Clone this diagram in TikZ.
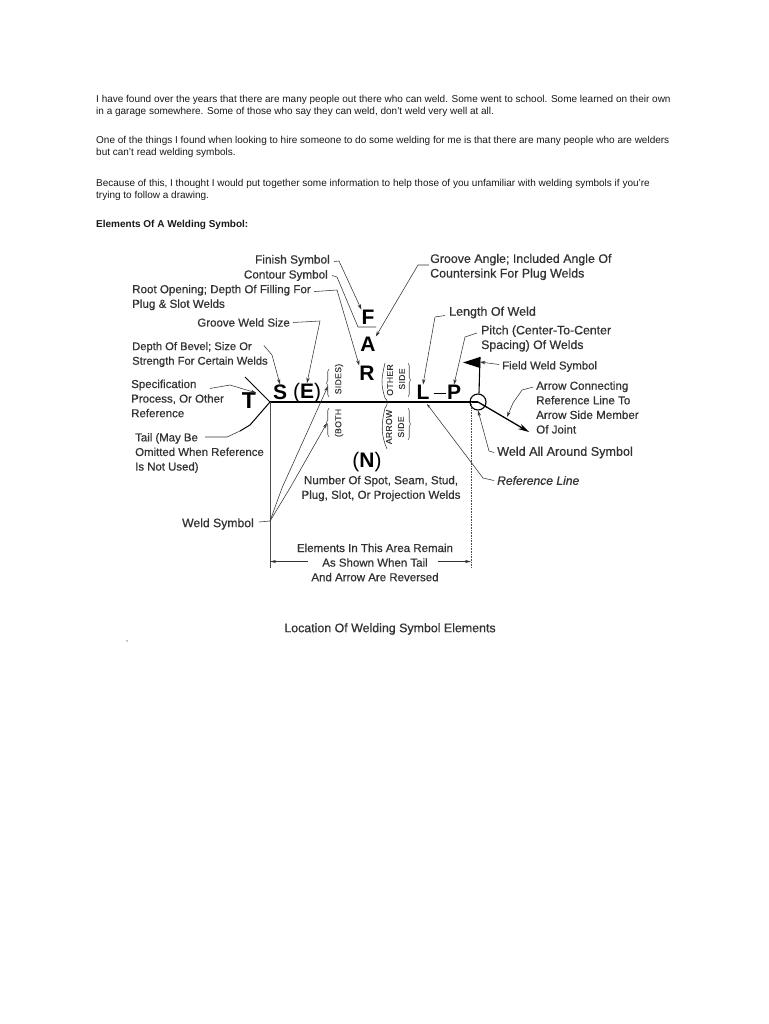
\documentclass[tikz,border=0pt]{standalone}
\usepackage{fontspec}
\setmainfont{Liberation Sans}
\newfontfamily\labfont[FakeBold=0.6,ItalicFeatures={FakeBold=0.6}]{Liberation Sans}
\newfontfamily\sidefont[FakeBold=0.3,LetterSpace=4]{Liberation Sans}
\usetikzlibrary{arrows.meta,decorations.pathreplacing}
\definecolor{ink}{gray}{0.2}
\tikzset{
  para/.style={anchor=west,inner sep=0pt,text=black!90,font=\fontsize{10}{12}\selectfont,align=left,yshift=-0.7pt},
  sz/.style={font=\labfont\fontsize{#1}{14.6}\selectfont},
  lab/.style={inner sep=1pt,text=ink,yshift=-1.5pt,sz=11.5},
  labl/.style={lab,anchor=west,align=left},
  labr/.style={lab,anchor=east,align=right},
  labc/.style={lab,align=center},
  glyph/.style={inner sep=0pt,text=black,font=\fontsize{21}{21}\selectfont\bfseries},
  side/.style={inner sep=0pt,text=ink,rotate=90,font=\sidefont\fontsize{8.6}{9}\selectfont},
  lead/.style={draw=black!80,line width=0.55pt},
  leadarrow/.style={lead,-{Stealth[length=5.5pt,width=3.4pt]}},
  heavy/.style={draw=black,line width=1.3pt},
  thinv/.style={draw=black!70,line width=0.6pt},
  rbrace/.style={draw=black!70,line width=0.55pt,decorate,decoration={brace,amplitude=2.5pt}},
}
\begin{document}
\begin{tikzpicture}[x=1pt,y=-1pt]
\useasboundingbox (0,0) rectangle (768,1024);
\fill[white] (0,0) rectangle (768,1024);
% page text
\node[para] (p1) at (96,105) {I have found over the years that there are many people out there who can weld. Some went to school. Some learned on their own\\in a garage somewhere. Some of those who say they can weld, don't weld very well at all.};
\node[para] (p2) at (96,146) {One of the things I found when looking to hire someone to do some welding for me is that there are many people who are welders\\but can't read welding symbols.};
\node[para] (p3) at (96,189) {Because of this, I thought I would put together some information to help those of you unfamiliar with welding symbols if you're\\trying to follow a drawing.};
\node[para,font=\fontsize{10}{12}\selectfont\bfseries] (p4) at (96,224) {Elements Of A Welding Symbol:};
% glyphs
\node[glyph] (F) at (368,317) {F};
\node[glyph] (A) at (368,344) {A};
\node[glyph] (R) at (367,373) {R};
\node[glyph] (S) at (280,392) {S};
\node[glyph,font=\fontsize{21}{21}\selectfont] (E) at (307,393) {(\textbf{E})};
\node[glyph,font=\fontsize{23}{23}\selectfont\bfseries] (T) at (249,401) {T};
\node[glyph] (L) at (423,392) {L};
\node[glyph] (P) at (454,392) {P};
\node[glyph,font=\fontsize{21}{21}\selectfont] (N) at (367,462) {(\textbf{N})};
% labels
\node[labr,sz=11.9] (finish) at (331,259) {Finish Symbol};
\node[labr,sz=11.7] (contour) at (329,274) {Contour Symbol};
\node[labl,sz=11.6] (root) at (131,296) {Root Opening; Depth Of Filling For\\Plug \& Slot Welds};
\node[labr,sz=11.5] (groovesize) at (291,321) {Groove Weld Size};
\node[labl,sz=11.2] (bevel) at (131,353) {Depth Of Bevel; Size Or\\Strength For Certain Welds};
\node[labl,sz=11.5] (spec) at (130,397) {Specification\\Process, Or Other\\Reference};
\node[labl,sz=11.4] (tail) at (134,451.5) {Tail (May Be\\Omitted When Reference\\Is Not Used)};
\node[labl,sz=12.4] (gangle) at (429,265.5) {Groove Angle; Included Angle Of\\Countersink For Plug Welds};
\node[labl,sz=12.5] (length) at (448,311) {Length Of Weld};
\node[labl,sz=12.3] (pitch) at (480,337) {Pitch (Center-To-Center\\Spacing) Of Welds};
\node[labl,sz=11.4] (field) at (501,365) {Field Weld Symbol};
\node[labl,sz=11.6] (arrowc) at (535,406) {Arrow Connecting\\Reference Line To\\Arrow Side Member\\Of Joint};
\node[labl,sz=12.6] (allround) at (496,451) {Weld All Around Symbol};
\node[labl,font=\labfont\fontsize{12.1}{14.6}\selectfont\itshape] (refl) at (496,479) {Reference Line};
\node[labc,sz=11.6] (number) at (381,487) {Number Of Spot, Seam, Stud,\\Plug, Slot, Or Projection Welds};
\node[labr,sz=12.2] (weldsym) at (255,522.5) {Weld Symbol};
\node[labc,sz=11.5] (remain) at (375,561) {Elements In This Area Remain\\As Shown When Tail\\And Arrow Are Reversed};
\node[lab,sz=12.4] (caption) at (390,627.5) {Location Of Welding Symbol Elements};
\node[inner sep=0pt,font=\fontsize{7}{8}\selectfont] (speck) at (127,642) {,};
% side words
\node[side] (sides) at (339,379) {SIDES)};
\node[side] (both) at (339,423) {(BOTH};
\node[side] (other) at (390,380) {OTHER};
\node[side] (sideA) at (402,379) {SIDE};
\node[side] (arrowW) at (389,427) {ARROW};
\node[side] (sideB) at (401,427) {SIDE};
% reference structure
\coordinate (J) at (270,402);
\coordinate (Jb) at (270,568);
\coordinate (Kt) at (471,402);
\coordinate (Kb) at (471,568);
\coordinate (tailup) at (245,377);
\coordinate (tailend) at (205,437);
\coordinate (tip) at (529,432);
\node[circle,draw=black,line width=1.1pt,minimum size=16pt,inner sep=0pt] (C) at (478,402) {};
\draw[heavy] (J) -- (C.center);
\draw[heavy,line width=1pt] (tailup) -- (J);
\draw[heavy,line width=1pt] (J) -- (250,425) -- (240,431);
\draw[lead] (240,431) -- (227,437) -- (tailend);
\draw[thinv] (J) -- (Jb);
\draw[thinv,densely dotted] (Kt) -- (Kb);
\draw[heavy,-{Stealth[length=11pt,width=6pt]}] (C.center) -- (tip);
% flag
\coordinate (flagtop) at (480,357);
\draw[draw=black,line width=1.1pt] (C.north) ++(1,0) -- (flagtop);
\fill[black] (flagtop) -- (463,362.5) -- (480,368) -- cycle;
% dash between L and P
\draw[draw=black,line width=1pt] (L.east) ++(4,1) -- ++(12,0);
% line under F
\coordinate (Fbar) at (376,327);
% leaders
\draw[leadarrow] (finish.east) ++(3,1) -- (339,261) -- (F.north west);
\draw[lead] (contour.east) ++(3,0) -- (337,277) -- (358,327) -- (Fbar);
\draw[leadarrow] (root.north east) ++(2,8) -- (337,290) -- (R.north west);
\draw[leadarrow] (groovesize.east) ++(2,0) -- (320,321) -- (E.north);
\draw[leadarrow] (bevel.east) ++(-5,-9) -- (272,355) -- (S.north);
\draw[leadarrow] (spec.north east) ++(-15,10) -- (230,385) -- (T.north east);
\draw[leadarrow] (gangle.west |- 0,265) -- (418,265) -- (A.north east);
\draw[leadarrow] (length.west) ++(-3,3) -- (435,317) -- (L.north);
\draw[leadarrow] (pitch.west |- 0,333) ++(-3,0) -- (465,337) -- (P.north);
\draw[leadarrow] (field.west) ++(-2,-2) -- (flagtop |- 0,362);
\draw[leadarrow] (arrowc.north west) ++(-2,7) -- (522,390) -- (513,403) -- (507,417);
\draw[leadarrow] (allround.west) ++(-2,0) -- (489,451) -- (C.south);
\draw[lead,-{Stealth[length=4pt,width=2.6pt]}] (refl.west) ++(-2,0) -- (483,478) -- (427,404);
% weld symbol
\coordinate (ws) at (270,521);
\draw[lead] (weldsym.east) ++(4,-2) -- (ws);
\draw[leadarrow] (ws) -- (282,488) -- (328,386);
\draw[leadarrow] (ws) -- (290,488) -- (327,423);
% dimension
\draw[lead,{Stealth[length=6pt,width=3pt]}-] (270,561.5) -- (308,561.5);
\draw[lead,-{Stealth[length=6pt,width=3pt]}] (438,561.5) -- (471,561.5);
% braces
\draw[rbrace] (329,397) -- (329,369);
\draw[rbrace] (329,437) -- (329,408);
\draw[rbrace] (408,363) -- (408,397);
\draw[rbrace] (408,408) -- (408,440);
\draw[lead] (385,363) .. controls (381,380) and (381,385) .. (385,398);
\draw[lead] (385,408) .. controls (381,425) and (381,435) .. (387,449);
\draw[lead] (385,398) .. controls (388,400) and (388,405) .. (385,408);
\end{tikzpicture}
\end{document}
